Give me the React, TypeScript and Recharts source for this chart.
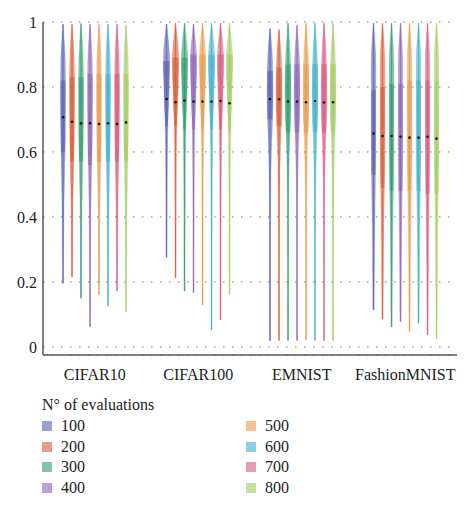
import { ComposedChart, Bar, XAxis, YAxis, CartesianGrid } from "recharts";

// #region data

const categories = ["CIFAR10", "CIFAR100", "EMNIST", "FashionMNIST"];
const evaluations = ["100", "200", "300", "400", "500", "600", "700", "800"];
const yTicks = [0, 0.2, 0.4, 0.6, 0.8, 1];

// one row per dataset, one value per number of evaluations
const minValues = [
    [0.196, 0.216, 0.15, 0.062, 0.16, 0.126, 0.173, 0.109],
    [0.276, 0.213, 0.172, 0.167, 0.129, 0.052, 0.083, 0.163],
    [0.019, 0.02, 0.02, 0.02, 0.022, 0.02, 0.02, 0.02],
    [0.114, 0.085, 0.062, 0.078, 0.047, 0.073, 0.037, 0.024],
];
const maxValues = [
    [0.993, 0.993, 0.995, 0.993, 0.993, 0.993, 0.993, 0.99],
    [0.994, 0.996, 0.996, 0.994, 0.996, 0.996, 0.996, 0.996],
    [0.98, 0.977, 0.996, 0.99, 0.996, 0.996, 0.996, 0.996],
    [0.996, 0.996, 0.996, 0.996, 0.996, 0.996, 0.996, 0.996],
];
const meanValues = [
    [0.707, 0.693, 0.688, 0.688, 0.686, 0.688, 0.686, 0.691],
    [0.763, 0.753, 0.758, 0.755, 0.755, 0.755, 0.757, 0.75],
    [0.763, 0.762, 0.755, 0.755, 0.753, 0.757, 0.752, 0.753],
    [0.657, 0.649, 0.649, 0.647, 0.644, 0.644, 0.647, 0.641],
];
const q1Values = [
    [0.6, 0.57, 0.57, 0.56, 0.57, 0.57, 0.57, 0.57],
    [0.68, 0.68, 0.67, 0.67, 0.67, 0.67, 0.67, 0.66],
    [0.7, 0.68, 0.66, 0.66, 0.66, 0.66, 0.66, 0.66],
    [0.53, 0.49, 0.48, 0.48, 0.48, 0.48, 0.47, 0.47],
];
const q3Values = [
    [0.82, 0.83, 0.83, 0.84, 0.84, 0.84, 0.84, 0.84],
    [0.88, 0.89, 0.89, 0.9, 0.9, 0.9, 0.9, 0.9],
    [0.85, 0.86, 0.87, 0.87, 0.87, 0.87, 0.87, 0.87],
    [0.79, 0.8, 0.81, 0.81, 0.82, 0.82, 0.82, 0.82],
];

// kernel density shape of each dataset, read at these levels
const densityLevels = [0, 0.1, 0.2, 0.3, 0.4, 0.5, 0.6, 0.7, 0.8, 0.9, 1];
const densityByDataset = [
    [0.15, 0.15, 0.18, 0.22, 0.3, 0.5, 0.75, 0.85, 0.9, 0.75, 0.15],
    [0.15, 0.15, 0.15, 0.17, 0.2, 0.24, 0.33, 0.55, 0.95, 1.1, 0.2],
    [0.15, 0.15, 0.15, 0.17, 0.2, 0.28, 0.5, 0.9, 1.05, 0.8, 0.15],
    [0.15, 0.2, 0.28, 0.38, 0.52, 0.68, 0.78, 0.82, 0.82, 0.78, 0.25],
];

// #endregion

const colors = ["#5a5fb8", "#d95b35", "#2f9e6e", "#8d64b8", "#e99a4a", "#3fb0cc", "#d75a7e", "#a3cc62"];
const FONT = '"Liberation Serif", "DejaVu Serif", serif';
const HALF_WIDTH = 2.7;

const data = categories.map((name, i) => ({
    name,
    ranges: evaluations.map((_, s) => [minValues[i][s], maxValues[i][s]]),
}));

const densityAt = (dens: number[], v: number) => {
    for (let j = 0; j < densityLevels.length - 1; j++) {
        const a = densityLevels[j];
        const b = densityLevels[j + 1];
        if (v >= a && v <= b) {
            const t = (v - a) / (b - a);
            return dens[j] + (dens[j + 1] - dens[j]) * t;
        }
    }
    return dens[dens.length - 1];
};

// catmull-rom through the points, as cubic segments
const smooth = (pts: number[][]) => {
    let d = "";
    for (let i = 0; i < pts.length - 1; i++) {
        const p0 = pts[Math.max(i - 1, 0)];
        const p1 = pts[i];
        const p2 = pts[i + 1];
        const p3 = pts[Math.min(i + 2, pts.length - 1)];
        const c1x = p1[0] + (p2[0] - p0[0]) / 6;
        const c1y = p1[1] + (p2[1] - p0[1]) / 6;
        const c2x = p2[0] - (p3[0] - p1[0]) / 6;
        const c2y = p2[1] - (p3[1] - p1[1]) / 6;
        d += ` C${c1x},${c1y} ${c2x},${c2y} ${p2[0]},${p2[1]}`;
    }
    return d;
};

const Violin = (props: any) => {
    const { x, y, width, height, index, s } = props;
    if (x == null || y == null) return null;
    const lo = minValues[index][s];
    const hi = maxValues[index][s];
    const top = Math.min(y, y + height);
    const k = Math.abs(height) / (hi - lo);
    const yOf = (v: number) => top + (hi - v) * k;
    const cx = x + width / 2;
    const dens = densityByDataset[index];

    const samples: number[][] = [[hi, 0.05]];
    for (let j = densityLevels.length - 1; j >= 0; j--) {
        const v = densityLevels[j];
        if (v < hi - 0.03 && v > lo + 0.02) samples.push([v, dens[j]]);
    }
    samples.push([lo, Math.min(densityAt(dens, lo), 0.2)]);

    const right = samples.map(([v, w]) => [cx + w * HALF_WIDTH, yOf(v)]);
    const left = samples.map(([v, w]) => [cx - w * HALF_WIDTH, yOf(v)]).reverse();
    const d =
        `M${cx},${yOf(hi)} L${right[0][0]},${right[0][1]}` +
        smooth(right) +
        ` L${left[0][0]},${left[0][1]}` +
        smooth(left) +
        " Z";

    const clipId = `iqr-${index}-${s}`;
    const yQ3 = yOf(q3Values[index][s]);
    const yQ1 = yOf(q1Values[index][s]);
    const color = colors[s];

    return (
        <g>
            <defs>
                <clipPath id={clipId}>
                    <rect x={cx - 10} y={yQ3} width={20} height={yQ1 - yQ3} />
                </clipPath>
            </defs>
            <line x1={cx} x2={cx} y1={yOf(hi)} y2={yOf(lo)} stroke={color} strokeWidth={1.3} strokeOpacity={0.75} />
            <path d={d} fill={color} fillOpacity={0.6} stroke={color} strokeOpacity={0.45} strokeWidth={0.5} />
            <path d={d} fill={color} fillOpacity={0.6} clipPath={`url(#${clipId})`} />
            <circle cx={cx} cy={yOf(meanValues[index][s])} r={1.3} fill="#111" />
        </g>
    );
};

const LegendBox = () => (
    <div
        style={{
            position: "absolute",
            left: 42,
            top: 395,
            fontFamily: FONT,
            fontSize: 16,
            color: "#222",
            lineHeight: "20px",
        }}
    >
        <div style={{ marginBottom: 1 }}>N° of evaluations</div>
        <div style={{ display: "grid", gridTemplateColumns: "204px 120px", gridAutoFlow: "column", gridTemplateRows: "repeat(4, 20.5px)" }}>
            {evaluations.map((label, s) => (
                <div key={label} style={{ display: "flex", alignItems: "center" }}>
                    <span
                        style={{
                            display: "inline-block",
                            width: 8,
                            height: 8,
                            background: colors[s],
                            opacity: 0.6,
                            border: `1px solid ${colors[s]}`,
                            marginRight: 9,
                        }}
                    />
                    {label}
                </div>
            ))}
        </div>
    </div>
);

export default function App() {
    return (
        <div style={{ position: "absolute", left: 0, top: 0, width: 474, height: 511, background: "#fff" }}>
            <ComposedChart
                width={474}
                height={511}
                data={data}
                margin={{ top: 22, right: 17, bottom: 116, left: 0 }}
                barCategoryGap="15%"
                barGap={0}
            >
                <CartesianGrid vertical={false} strokeDasharray="1.5 7.5" stroke="#777" />
                <XAxis
                    dataKey="name"
                    tickLine={false}
                    axisLine={{ stroke: "#555", strokeWidth: 1.5 }}
                    tickMargin={8}
                    height={40}
                    tick={{ fontFamily: FONT, fontSize: 16, fill: "#222" }}
                />
                <YAxis
                    domain={[-0.025, 1]}
                    ticks={yTicks}
                    tickFormatter={(v: number) => String(v)}
                    tickLine={false}
                    tickSize={4}
                    axisLine={{ stroke: "#555", strokeWidth: 1.5 }}
                    width={43}
                    allowDataOverflow
                    tick={{ fontFamily: FONT, fontSize: 16, fill: "#222" }}
                />
                {evaluations.map((label, s) => (
                    <Bar
                        key={label}
                        dataKey={(row: any) => row.ranges[s]}
                        name={label}
                        isAnimationActive={false}
                        shape={(p: any) => <Violin {...p} s={s} />}
                    />
                ))}
            </ComposedChart>
            <LegendBox />
        </div>
    );
}
